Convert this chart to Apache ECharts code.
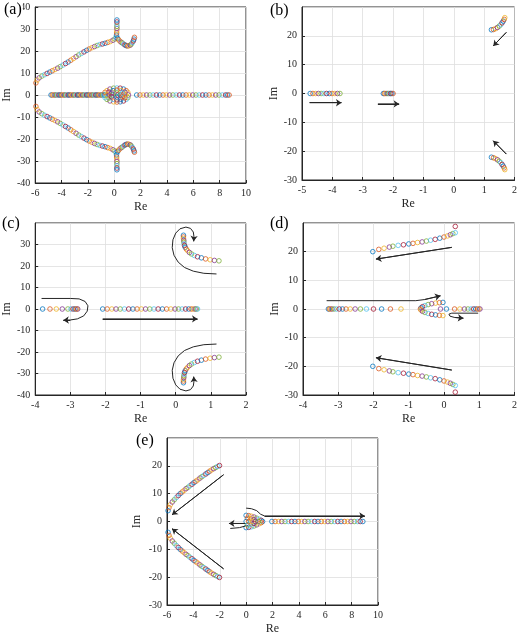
<!DOCTYPE html>
<html><head><meta charset="utf-8">
<script src="https://cdn.jsdelivr.net/npm/echarts@6/dist/echarts.min.js"></script>
<style>html,body{margin:0;padding:0;background:#fff}#c{width:520px;height:636px}</style>
</head><body><div id="c"></div>
<script>
const COLORS = ['#0072BD','#D95319','#EDB120','#7E2F8E','#77AC30','#4DBEEE','#A2142F'];
const FONT = 'Liberation Serif';

// ---------- Panel (a) ----------
const A_upper = [[-6.05,4.0],[-5.95,5.5],[-5.85,6.8],[-5.7,7.8],[-5.5,8.6],[-5.3,9.2],[-5.1,9.8],[-4.9,10.4],[-4.7,11.0],[-4.5,11.6],[-4.3,12.2],[-4.1,12.9],[-3.9,13.6],[-3.7,14.3],[-3.5,15.0],[-3.3,15.8],[-3.1,16.6],[-2.9,17.4],[-2.7,18.2],[-2.5,18.9],[-2.3,19.6],[-2.1,20.3],[-1.9,20.9],[-1.7,21.5],[-1.5,22.0],[-1.3,22.5],[-1.1,22.9],[-0.9,23.2],[-0.7,23.5],[-0.5,23.9],[-0.3,24.3],[-0.1,24.9],[0.05,25.5],[0.15,26.2]];
const A_upperVert = [[0.17,27.2],[0.18,28.2],[0.19,29.2],[0.2,30.2],[0.2,31.2],[0.2,32.2],[0.2,33.2],[0.2,34.1]];
const A_upperHook = [[0.25,25.8],[0.33,25.1],[0.42,24.5],[0.52,24.0],[0.62,23.6],[0.72,23.1],[0.82,22.7],[0.92,22.4],[1.02,22.3],[1.12,22.4],[1.22,22.7],[1.3,23.2],[1.38,23.8],[1.45,24.6],[1.5,25.4],[1.53,26.2]];
const A_lower = [[-6.05,-3.6],[-5.95,-5.2],[-5.85,-6.6],[-5.7,-7.7],[-5.5,-8.5],[-5.3,-9.2],[-5.1,-9.8],[-4.9,-10.4],[-4.7,-11.0],[-4.5,-11.6],[-4.3,-12.2],[-4.1,-12.9],[-3.9,-13.6],[-3.7,-14.3],[-3.5,-15.0],[-3.3,-15.8],[-3.1,-16.6],[-2.9,-17.4],[-2.7,-18.2],[-2.5,-18.9],[-2.3,-19.6],[-2.1,-20.3],[-1.9,-20.9],[-1.7,-21.5],[-1.5,-22.0],[-1.3,-22.5],[-1.1,-22.9],[-0.9,-23.2],[-0.7,-23.5],[-0.5,-23.9],[-0.3,-24.3],[-0.1,-24.9],[0.05,-25.5],[0.15,-26.2]];
const A_lowerVert = [[0.17,-27.2],[0.18,-28.2],[0.19,-29.2],[0.2,-30.2],[0.2,-31.2],[0.2,-32.2],[0.2,-33.2],[0.2,-34.0]];
const A_lowerHook = [[0.25,-25.8],[0.33,-25.1],[0.42,-24.5],[0.52,-24.0],[0.62,-23.6],[0.72,-23.1],[0.82,-22.7],[0.92,-22.4],[1.02,-22.3],[1.12,-22.4],[1.22,-22.7],[1.3,-23.2],[1.38,-23.8],[1.45,-24.6],[1.5,-25.4],[1.53,-26.0]];
const A_realLeft = [-4.8,-4.7,-4.6,-4.5,-4.4,-4.3,-4.2,-4.1,-4.0,-3.9,-3.8,-3.7,-3.6,-3.5,-3.4,-3.3,-3.2,-3.1,-3.0,-2.9,-2.8,-2.7,-2.6,-2.5,-2.4,-2.3,-2.2,-2.1,-2.0,-1.9,-1.8,-1.7,-1.6,-1.5,-1.4,-1.3,-1.2,-1.1,-1.0,-0.9,-0.8];
const A_blob = [[-0.75,0],[-0.7,1.2],[-0.55,2.0],[-0.33,2.7],[-0.05,3.1],[0.2,3.2],[0.45,3.1],[0.7,2.7],[0.9,2.0],[1.03,1.2],[1.08,0],[1.03,-1.2],[0.9,-2.0],[0.7,-2.7],[0.45,-3.1],[0.2,-3.2],[-0.05,-3.1],[-0.33,-2.7],[-0.55,-2.0],[-0.7,-1.2],[-0.4,1.3],[-0.1,2.0],[0.2,2.2],[0.5,2.0],[0.8,1.3],[-0.4,-1.3],[-0.1,-2.0],[0.2,-2.2],[0.5,-2.0],[0.8,-1.3],[-0.55,0],[-0.35,0],[-0.15,0],[0.05,0],[0.25,0],[0.45,0],[0.65,0],[0.85,0],[-0.2,0.8],[0.2,0.9],[0.6,0.8],[-0.2,-0.8],[0.2,-0.9],[0.6,-0.8]];
const A_realRight = [1.7,1.95,2.2,2.45,2.7,2.95,3.2,3.45,3.7,3.95,4.2,4.45,4.7,4.95,5.2,5.45,5.7,5.95,6.2,6.45,6.7,6.95,7.2,7.45,7.7,7.95,8.2,8.45,8.6,8.72];

// ---------- Panel (b) ----------
const B_real1 = [-4.73,-4.64,-4.55,-4.46,-4.37,-4.28,-4.19,-4.10,-4.01,-3.92,-3.83,-3.75];
const B_real2 = [-2.32,-2.28,-2.24,-2.2,-2.16,-2.12,-2.08,-2.04,-2.0];
const B_upper = [[1.24,22.1],[1.31,22.2],[1.38,22.5],[1.44,22.9],[1.5,23.4],[1.55,23.9],[1.59,24.5],[1.63,25.1],[1.66,25.7],[1.68,26.3]];
const B_lower = [[1.24,-22.1],[1.31,-22.3],[1.38,-22.6],[1.44,-23.0],[1.5,-23.5],[1.55,-24.0],[1.59,-24.6],[1.63,-25.2],[1.66,-25.8],[1.68,-26.4]];
const B_arrows = [
  [[-4.75,-3.2],[-3.7,-3.2]],
  [[-2.5,-3.6],[-1.8,-3.6]],
  [[1.73,21.2],[1.3,16.5]],
  [[1.73,-21.0],[1.3,-16.4]]
];

// ---------- Panel (c) ----------
const C_realLeft = [-3.79,-3.58,-3.40,-3.23,-3.07,-2.98,-2.92,-2.87,-2.84,-2.81,-2.79];
const C_realMid = [-2.08,-1.95,-1.82,-1.7,-1.58,-1.46,-1.34,-1.22,-1.1,-0.98,-0.86,-0.74,-0.62,-0.5,-0.38,-0.26,-0.14,-0.02,0.08,0.18,0.28,0.37,0.44,0.5,0.55,0.59,0.62];
const C_upper = [[0.22,34.3],[0.22,33.5],[0.22,32.7],[0.23,31.9],[0.23,31.1],[0.24,30.3],[0.25,29.5],[0.27,28.7],[0.3,27.9],[0.34,27.1],[0.39,26.3],[0.45,25.6],[0.53,24.9],[0.62,24.3],[0.73,23.8],[0.85,23.3],[0.98,22.9],[1.1,22.6],[1.23,22.4]];
const C_lower = [[0.22,-34.3],[0.22,-33.5],[0.22,-32.7],[0.23,-31.9],[0.23,-31.1],[0.24,-30.3],[0.25,-29.5],[0.27,-28.7],[0.3,-27.9],[0.34,-27.1],[0.39,-26.3],[0.45,-25.6],[0.53,-24.9],[0.62,-24.3],[0.73,-23.8],[0.85,-23.3],[0.98,-22.9],[1.1,-22.6],[1.23,-22.4]];
const C_arrows = [
  [[-3.82,4.9],[-3.0,4.9],[-2.75,4.7],[-2.58,3.5],[-2.5,1.5],[-2.52,-1.0],[-2.62,-3.2],[-2.8,-4.6],[-3.0,-5.1],[-3.2,-5.2]],
  [[-2.08,-4.6],[0.62,-4.6]],
  [[1.16,16.3],[0.8,16.6],[0.5,17.6],[0.25,19.3],[0.07,21.8],[-0.05,25.0],[-0.1,28.5],[-0.08,32.2],[0.0,35.3],[0.12,37.3],[0.29,38.1],[0.42,37.5],[0.5,35.8],[0.52,33.5],[0.51,31.5]],
  [[1.16,-16.3],[0.8,-16.6],[0.5,-17.6],[0.25,-19.3],[0.07,-21.8],[-0.05,-25.0],[-0.1,-28.5],[-0.08,-32.2],[0.0,-35.3],[0.12,-37.3],[0.29,-38.1],[0.42,-37.5],[0.5,-35.8],[0.52,-33.5],[0.51,-31.5]]
];

// ---------- Panel (d) ----------
const D_upper = [[-2.02,20.0],[-1.85,20.8],[-1.7,21.2],[-1.55,21.6],[-1.45,21.9],[-1.3,22.2],[-1.15,22.4],[-1.0,22.7],[-0.88,22.9],[-0.75,23.2],[-0.62,23.4],[-0.5,23.7],[-0.38,24.0],[-0.25,24.3],[-0.12,24.7],[0.0,25.1],[0.1,25.5],[0.18,25.9],[0.25,26.3],[0.32,26.6],[0.32,28.8]];
const D_lower = [[-2.02,-20.0],[-1.85,-20.8],[-1.7,-21.2],[-1.55,-21.6],[-1.45,-21.9],[-1.3,-22.2],[-1.15,-22.4],[-1.0,-22.7],[-0.88,-22.9],[-0.75,-23.2],[-0.62,-23.4],[-0.5,-23.7],[-0.38,-24.0],[-0.25,-24.3],[-0.12,-24.7],[0.0,-25.1],[0.1,-25.5],[0.18,-25.9],[0.25,-26.3],[0.32,-26.7],[0.32,-29.0]];
const D_realLeft = [-3.28,-3.25,-3.22,-3.18,-3.12,-3.05,-2.97,-2.88,-2.78,-2.66,-2.52,-2.37,-2.2,-2.0,-1.77,-1.52,-1.22];
const D_loop = [[-0.03,2.3],[-0.13,2.2],[-0.24,2.05],[-0.35,1.85],[-0.45,1.55],[-0.54,1.2],[-0.61,0.8],[-0.65,0.4],[-0.67,0],[-0.65,-0.4],[-0.61,-0.8],[-0.54,-1.2],[-0.45,-1.55],[-0.35,-1.85],[-0.24,-2.05],[-0.13,-2.2],[-0.03,-2.3],[-0.1,0]];
const D_realRight = [0.07,0.3,0.45,0.58,0.68,0.77,0.84,0.9,0.95,0.99,1.02];
const D_arrows = [
  [[0.22,21.5],[-1.93,17.4]],
  [[0.22,-21.3],[-1.93,-17.0]],
  [[-3.33,2.9],[-0.8,2.9],[-0.55,3.3],[-0.1,4.6]],
  [[0.97,-1.45],[0.22,-1.45],[0.14,-1.8],[0.17,-2.5],[0.3,-2.95],[0.55,-3.2]]
];

// ---------- Panel (e) ----------
const E_upper = [[-5.92,3.9],[-5.85,5.0],[-5.75,6.0],[-5.6,7.0],[-5.45,7.8],[-5.3,8.6],[-5.15,9.3],[-5.0,10.0],[-4.85,10.6],[-4.7,11.2],[-4.55,11.8],[-4.4,12.3],[-4.25,12.9],[-4.1,13.4],[-3.95,14.0],[-3.8,14.5],[-3.65,15.0],[-3.5,15.6],[-3.35,16.1],[-3.2,16.6],[-3.05,17.1],[-2.9,17.6],[-2.75,18.1],[-2.6,18.6],[-2.45,19.0],[-2.3,19.4],[-2.15,19.8],[-2.02,20.1]];
const E_lower = [[-5.92,-3.9],[-5.85,-5.0],[-5.75,-6.0],[-5.6,-7.0],[-5.45,-7.8],[-5.3,-8.6],[-5.15,-9.3],[-5.0,-10.0],[-4.85,-10.6],[-4.7,-11.2],[-4.55,-11.8],[-4.4,-12.3],[-4.25,-12.9],[-4.1,-13.4],[-3.95,-14.0],[-3.8,-14.5],[-3.65,-15.0],[-3.5,-15.6],[-3.35,-16.1],[-3.2,-16.6],[-3.05,-17.1],[-2.9,-17.6],[-2.75,-18.1],[-2.6,-18.6],[-2.45,-19.0],[-2.3,-19.4],[-2.15,-19.8],[-2.02,-20.1]];
const E_cluster = [[0.0,2.2],[0.2,2.1],[0.4,1.9],[0.6,1.6],[0.8,1.2],[1.0,0.8],[1.15,0.4],[1.25,0],[1.15,-0.4],[1.0,-0.8],[0.8,-1.2],[0.6,-1.6],[0.4,-1.9],[0.2,-2.1],[0.0,-2.2],[0.1,1.2],[0.35,1.0],[0.6,0.7],[0.1,-1.2],[0.35,-1.0],[0.6,-0.7],[0.0,0],[0.2,0],[0.45,0],[0.7,0],[0.95,0]];
const E_realRight = [1.95,2.2,2.45,2.7,2.95,3.2,3.45,3.7,3.95,4.2,4.45,4.7,4.95,5.2,5.45,5.7,5.95,6.2,6.45,6.7,6.95,7.2,7.45,7.7,7.95,8.2,8.45,8.65,8.85];
const E_arrows = [
  [[-1.71,16.8],[-5.62,2.4]],
  [[-1.71,-17.0],[-5.62,-2.6]],
  [[0.0,4.8],[0.4,4.6],[0.8,3.9],[1.1,2.6],[1.4,2.0],[9.0,2.0]],
  [[-0.1,-0.7],[-1.3,-0.7]]
];
const E_lines = [
  [[-1.2,-2.5],[-0.5,-2.2],[-0.05,-1.6]]
];

// ---------- helpers ----------
const onAxis = xs => xs.map(x => [x, 0]);

function scatter(gi, branches) {
  const data = [];
  branches.forEach(br => br.forEach((p, i) => {
    data.push({value: p, itemStyle: {borderColor: COLORS[i % COLORS.length]}});
  }));
  return {
    type: 'scatter', xAxisIndex: gi, yAxisIndex: gi, data,
    symbol: 'circle', symbolSize: 4.6, silent: true,
    itemStyle: {color: 'rgba(0,0,0,0)', borderWidth: 0.9, opacity: 0.85},
    z: 3
  };
}
function arrows(gi, list, noHeadList) {
  const body = list.concat(noHeadList || []);
  return [
    {type: 'lines', coordinateSystem: 'cartesian2d', xAxisIndex: gi, yAxisIndex: gi, polyline: true, silent: true,
     data: body.map(c => ({coords: c})), lineStyle: {color: '#262626', width: 1, opacity: 1}, z: 4},
    {type: 'lines', coordinateSystem: 'cartesian2d', xAxisIndex: gi, yAxisIndex: gi, silent: true,
     symbol: ['none', 'arrow'], symbolSize: 5.5,
     data: list.map(c => ({coords: [c[c.length - 2], c[c.length - 1]]})),
     lineStyle: {color: '#262626', width: 1, opacity: 1}, z: 4}
  ];
}
const grids = [
  {left: 33, top: 7, width: 213, height: 176},
  {left: 302, top: 7, width: 215, height: 173},
  {left: 32, top: 223, width: 214, height: 172},
  {left: 303, top: 223, width: 214, height: 172},
  {left: 167, top: 438, width: 211, height: 174}
].map(g => Object.assign({show: true, borderColor: '#262626', borderWidth: 1, backgroundColor: '#fff'}, g));

const axisCommon = {
  type: 'value',
  nameLocation: 'middle',
  nameTextStyle: {fontFamily: FONT, fontSize: 12, color: '#262626'},
  axisLine: {onZero: false, lineStyle: {color: '#262626'}},
  axisTick: {inside: true, length: 3, lineStyle: {color: '#262626'}},
  axisLabel: {fontFamily: FONT, fontSize: 10, color: '#262626', margin: 5},
  splitLine: {show: true, lineStyle: {color: '#dedede', width: 0.8}}
};
function xAx(gi, min, max, interval) {
  return Object.assign({}, axisCommon, {gridIndex: gi, min, max, interval, name: 'Re', nameGap: 18});
}
function yAx(gi, min, max, interval, showMax, gap) {
  return Object.assign({}, axisCommon, {gridIndex: gi, min, max, interval, name: 'Im', nameGap: gap,
    axisLabel: Object.assign({}, axisCommon.axisLabel, {showMaxLabel: showMax})});
}
const titleStyle = {fontFamily: FONT, fontSize: 16, fontWeight: 'normal', color: '#000'};
function label(t, left, top) {
  return {text: t, left, top, padding: [0, 1, 0, 0], backgroundColor: '#fff', textStyle: titleStyle};
}

const option = {
  animation: false,
  backgroundColor: '#fff',
  title: [label('(a)', 4, 2), label('(b)', 270, 3), label('(c)', 2, 216), label('(d)', 270, 216), label('(e)', 136, 433)],
  grid: grids,
  xAxis: [xAx(0, -6, 10, 2), xAx(1, -5, 2, 1), xAx(2, -4, 2, 1), xAx(3, -4, 2, 1), xAx(4, -6, 10, 2)],
  yAxis: [yAx(0, -40, 40, 10, true, 22), yAx(1, -30, 30, 10, false, 22), yAx(2, -40, 40, 10, false, 21),
          yAx(3, -30, 30, 10, false, 22), yAx(4, -30, 30, 10, false, 24)],
  series: [
    scatter(0, [A_upper, A_upperVert, A_upperHook, A_lower, A_lowerVert, A_lowerHook, onAxis(A_realLeft), A_blob, onAxis(A_realRight)]),
    scatter(1, [onAxis(B_real1), onAxis(B_real2), B_upper, B_lower]),
    ...arrows(1, B_arrows),
    scatter(2, [onAxis(C_realLeft), onAxis(C_realMid), C_upper, C_lower]),
    ...arrows(2, C_arrows),
    scatter(3, [D_upper, D_lower, onAxis(D_realLeft), D_loop, onAxis(D_realRight)]),
    ...arrows(3, D_arrows),
    scatter(4, [E_upper, E_lower, E_cluster, onAxis(E_realRight)]),
    ...arrows(4, E_arrows, E_lines)
  ]
};
const chart = echarts.init(document.getElementById('c'), null, {renderer: 'canvas'});
chart.setOption(option);
</script></body></html>
